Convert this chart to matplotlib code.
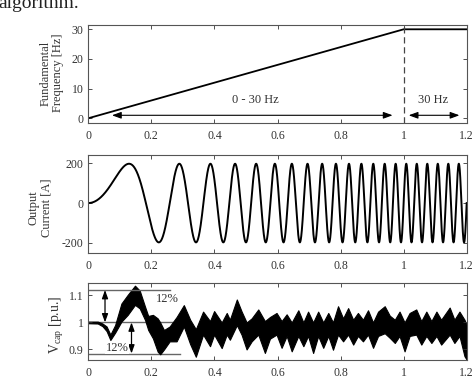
import numpy as np
import matplotlib
matplotlib.use("Agg")
import matplotlib.pyplot as plt

plt.rcParams["font.family"] = ["Liberation Serif", "DejaVu Serif"]
plt.rcParams["mathtext.fontset"] = "custom"
plt.rcParams["mathtext.rm"] = "Liberation Serif"
plt.rcParams["mathtext.it"] = "Liberation Serif:italic"
plt.rcParams["axes.unicode_minus"] = False

# fundamental frequency profile
freq_t = [0.0, 1.0, 1.2]
freq_hz = [0.0, 30.0, 30.0]

# output current peak amplitude [A]
current_amp = 198.0

# capacitor voltage band: upper / lower envelope at local extrema
vcap_t = [0.000, 0.030, 0.045, 0.058, 0.070, 0.085, 0.105, 0.125, 0.148, 0.163,
          0.180, 0.190, 0.205, 0.220, 0.228, 0.240, 0.258, 0.280, 0.303, 0.323,
          0.341, 0.364, 0.386, 0.399, 0.423, 0.439, 0.449, 0.471, 0.486, 0.502,
          0.518, 0.539, 0.560, 0.576, 0.597, 0.613, 0.629, 0.645, 0.666, 0.682,
          0.697, 0.713, 0.729, 0.745, 0.761, 0.776, 0.792, 0.808, 0.824, 0.840,
          0.855, 0.871, 0.887, 0.903, 0.919, 0.940, 0.956, 0.972, 0.987, 1.003,
          1.019, 1.040, 1.056, 1.072, 1.088, 1.104, 1.119, 1.146, 1.161, 1.177,
          1.193, 1.200]
vcap_hi = [1.003, 1.003, 0.996, 0.985, 0.955, 0.990, 1.070, 1.102, 1.136, 1.118,
           1.058, 1.024, 1.028, 1.015, 1.000, 0.972, 0.985, 1.020, 1.064, 1.010,
           0.975, 1.040, 1.005, 1.042, 1.000, 1.035, 1.010, 1.085, 1.041, 1.000,
           1.015, 1.048, 1.005, 1.020, 1.035, 1.005, 1.030, 1.000, 1.045, 1.000,
           1.040, 1.000, 1.040, 1.000, 1.035, 1.000, 1.060, 1.015, 1.053, 1.010,
           1.035, 1.010, 1.045, 1.000, 1.040, 1.060, 1.025, 1.010, 1.040, 1.000,
           1.035, 1.048, 1.005, 1.040, 1.005, 1.040, 1.010, 1.055, 1.010, 1.040,
           1.010, 0.990]
vcap_lo = [0.997, 0.996, 0.986, 0.968, 0.935, 0.962, 1.003, 1.028, 1.065, 1.052,
           1.009, 0.972, 0.941, 0.892, 0.882, 0.900, 0.930, 0.930, 0.985, 0.920,
           0.873, 0.955, 0.912, 0.955, 0.905, 0.955, 0.936, 0.990, 0.955, 0.900,
           0.930, 0.955, 0.887, 0.940, 0.955, 0.906, 0.950, 0.893, 0.950, 0.912,
           0.950, 0.887, 0.950, 0.906, 0.950, 0.899, 0.955, 0.930, 0.955, 0.918,
           0.950, 0.930, 0.955, 0.906, 0.950, 0.960, 0.943, 0.924, 0.950, 0.893,
           0.950, 0.955, 0.918, 0.950, 0.924, 0.950, 0.918, 0.955, 0.924, 0.950,
           0.875, 0.862]

xticks = [0, 0.2, 0.4, 0.6, 0.8, 1.0, 1.2]
xtick_labels = ["0", "0.2", "0.4", "0.6", "0.8", "1", "1.2"]

W, H = 474, 379
TXT = "#333333"


def px(x, y):
    return x / W, 1 - y / H


def style(ax):
    ax.set_xlim(0, 1.2)
    ax.set_xticks(xticks)
    ax.set_xticklabels(xtick_labels)
    ax.tick_params(direction="in", top=True, right=True, length=3, width=0.6,
                   colors=TXT, labelsize=8.5)
    ax.tick_params(axis="x", pad=5)
    for s in ax.spines.values():
        s.set_color("#555555")
        s.set_linewidth(0.8)


fig = plt.figure(figsize=(W / 100, H / 100), dpi=100)

left, width = 88.3 / W, (466.7 - 88.3) / W
ax1 = fig.add_axes([left, 1 - 123.3 / H, width, 98.3 / H])
ax2 = fig.add_axes([left, 1 - 253.3 / H, width, 98.3 / H])
ax3 = fig.add_axes([left, 1 - 360.0 / H, width, 77.3 / H])

# top: frequency ramp
ax1.plot(freq_t, freq_hz, color="black", lw=1.3)
ax1.axvline(1.0, color="#444444", lw=0.9, ls=(0, (5, 3)))
ax1.set_ylim(-1.7, 31.45)
ax1.set_yticks([0, 10, 20, 30])
arrow = dict(arrowstyle="<|-|>,head_length=0.55,head_width=0.2", color="black",
             lw=0.8, shrinkA=0, shrinkB=0)
ax1.annotate("", xy=(0.965, 1.0), xytext=(0.075, 1.0), arrowprops=arrow)
ax1.annotate("", xy=(1.177, 1.0), xytext=(1.016, 1.0), arrowprops=arrow)
ax1.text(0.53, 6.0, "0 - 30 Hz", ha="center", va="center", fontsize=9, color=TXT)
ax1.text(1.093, 6.0, "30 Hz", ha="center", va="center", fontsize=9, color=TXT)
style(ax1)

# middle: output current, phase follows the frequency profile above
t = np.linspace(0, 1.2, 8000)
f = np.interp(t, freq_t, freq_hz)
phase = 2 * np.pi * np.concatenate([[0], np.cumsum((f[1:] + f[:-1]) / 2 * np.diff(t))])
ax2.plot(t, current_amp * np.sin(phase), color="black", lw=1.4)
ax2.set_ylim(-253, 242)
ax2.set_yticks([-200, 0, 200])
style(ax2)

# bottom: capacitor voltage
ax3.fill_between(vcap_t, vcap_lo, vcap_hi, color="black", lw=0.8, edgecolor="black")
ax3.plot([0, 0.26], [1.12, 1.12], color="#666666", lw=1.0)
ax3.plot([0, 0.275], [1.0, 1.0], color="#666666", lw=1.0, zorder=0)
ax3.plot([0, 0.29], [0.885, 0.885], color="#666666", lw=1.0, zorder=0)
arrow3 = dict(arrowstyle="<|-|>,head_length=0.5,head_width=0.18", color="black",
              lw=0.9, shrinkA=0, shrinkB=0)
ax3.annotate("", xy=(0.053, 1.0), xytext=(0.053, 1.12), arrowprops=arrow3)
ax3.annotate("", xy=(0.137, 0.885), xytext=(0.137, 1.0), arrowprops=arrow3)
ax3.text(0.25, 1.085, "12%", ha="center", va="center", fontsize=9, color=TXT)
ax3.text(0.092, 0.905, "12%", ha="center", va="center", fontsize=9, color=TXT,
         bbox=dict(facecolor="white", edgecolor="none", pad=0.3))
ax3.set_ylim(0.861, 1.147)
ax3.set_yticks([0.9, 1.0, 1.1])
ax3.set_yticklabels(["0.9", "1", "1.1"])
style(ax3)

# y labels
fig.text(*px(52, 73), "Fundamental\nFrequency [Hz]", rotation=90, ha="center",
         va="center", fontsize=9, color=TXT, linespacing=1.1)
fig.text(*px(40, 208), "Output\nCurrent [A]", rotation=90, ha="center",
         va="center", fontsize=9, color=TXT, linespacing=1.1)
fig.text(*px(57, 325), r"V$_{\mathrm{cap}}$ [p.u.]", rotation=90, ha="center",
         va="center", fontsize=10, color=TXT)

# leftover caption text cut at the top edge
fig.text(*px(-2, 7.5), "algorithm.", fontsize=14, va="baseline", color="#222222")

fig.savefig("out.png", dpi=100)
